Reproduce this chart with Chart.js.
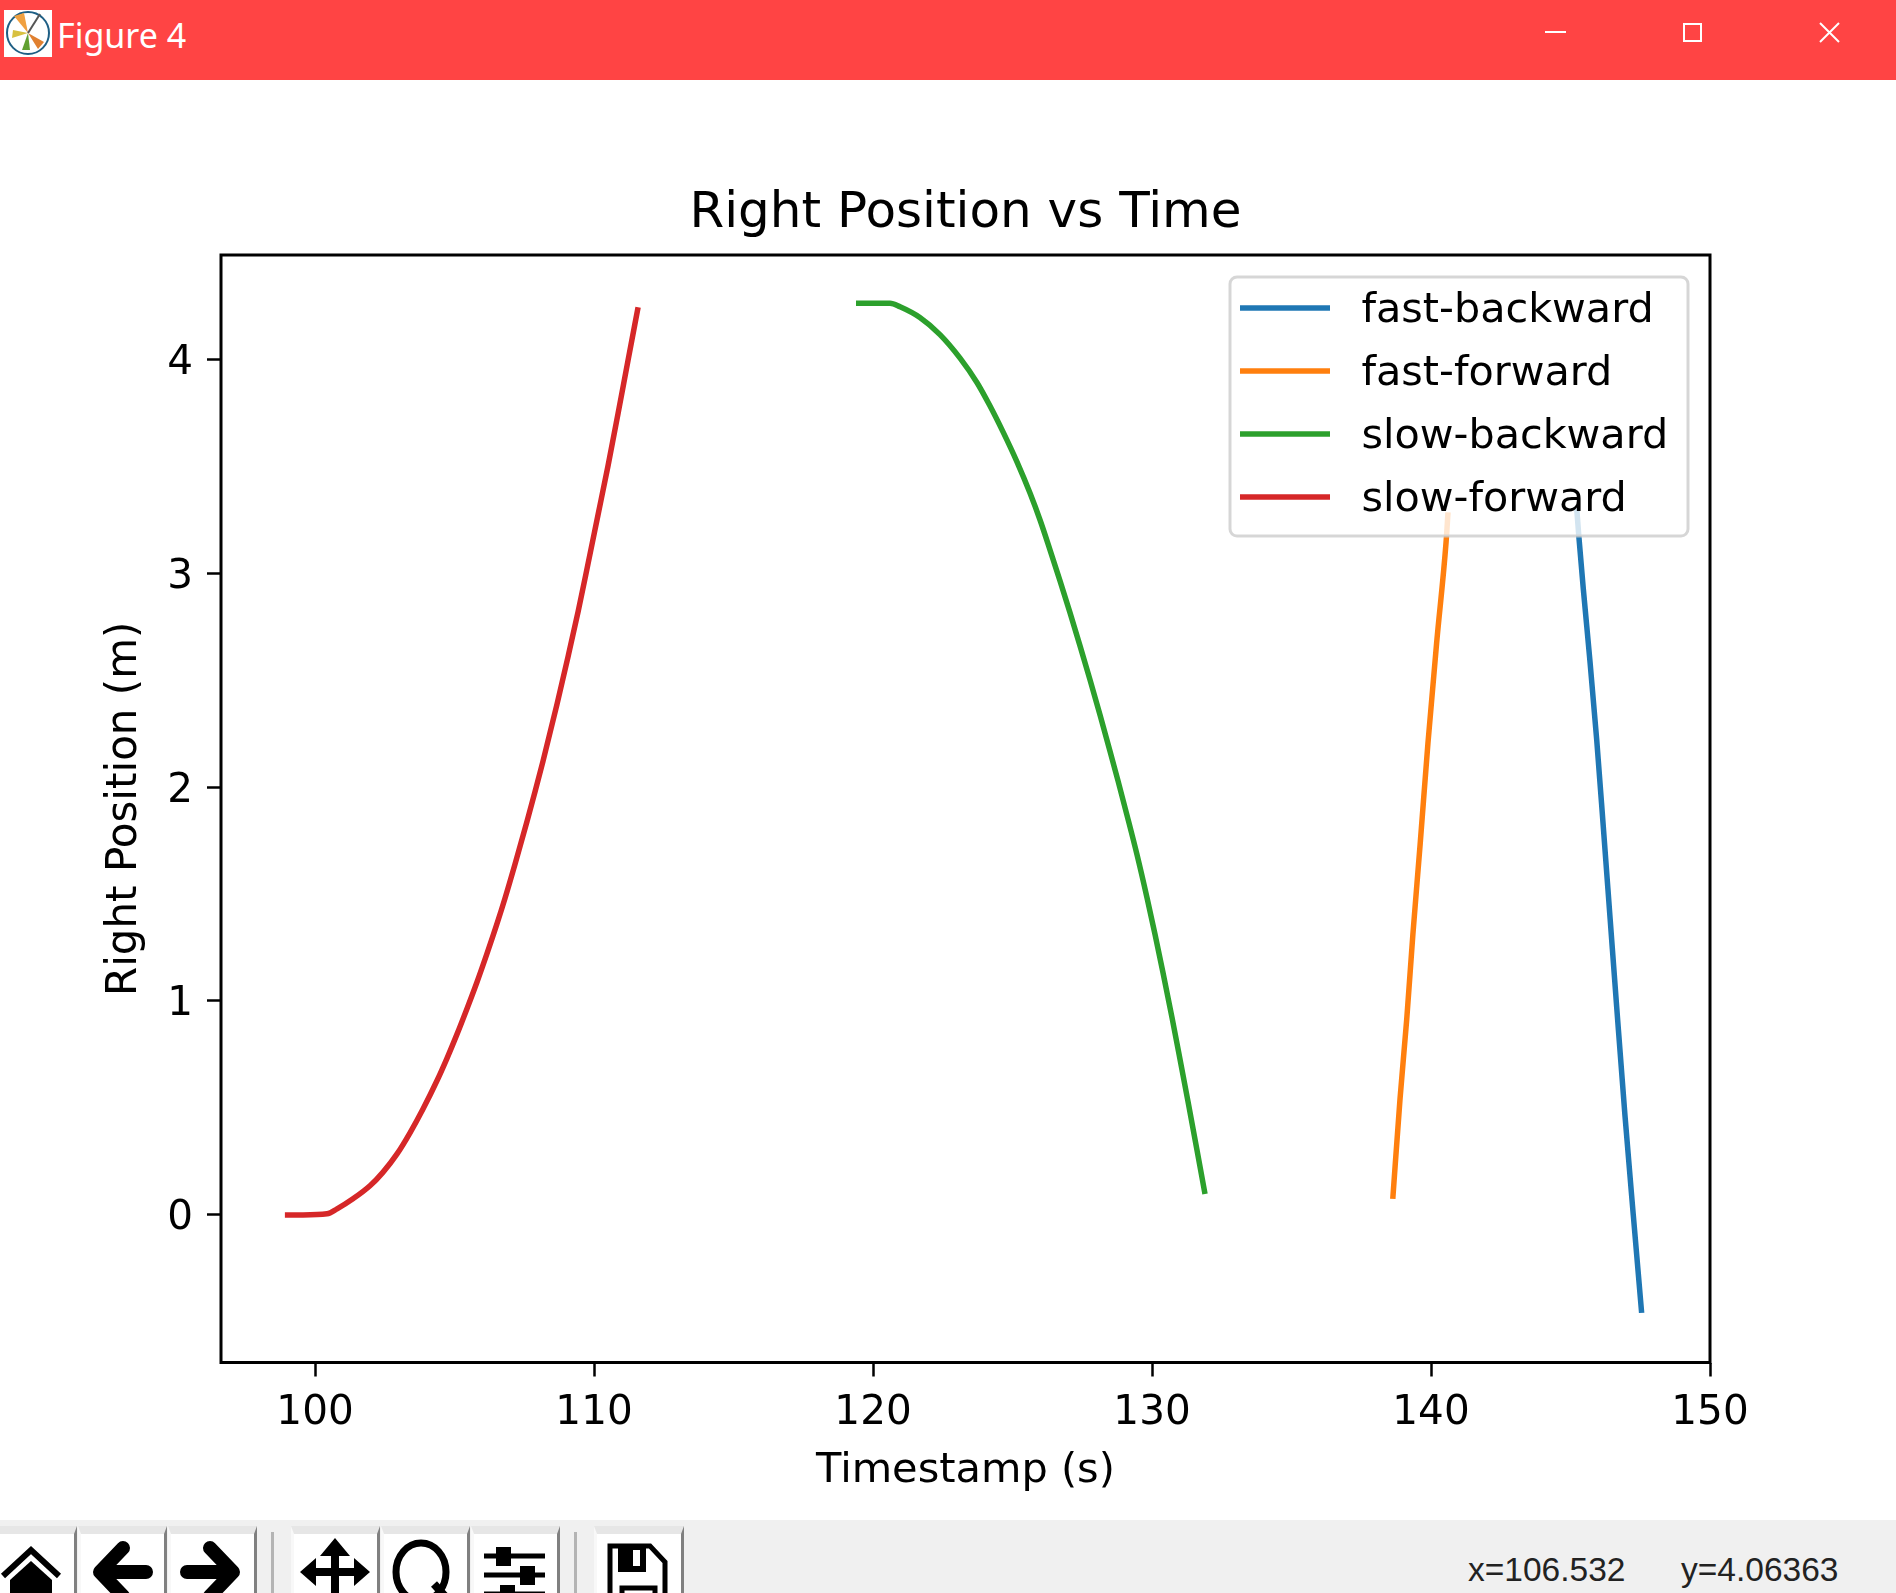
<!DOCTYPE html>
<html>
<head>
<meta charset="utf-8">
<title>Figure 4</title>
<script src="https://cdn.jsdelivr.net/npm/chart.js@4"></script>
<style>
  html, body { margin: 0; padding: 0; background: #fff; overflow: hidden; }
  #page { position: relative; width: 1896px; height: 1593px; overflow: hidden; background: #fff; filter: blur(0.6px); }
  #titlebar { position: absolute; left: 0; top: 0; width: 1896px; height: 80px; background: #ff4444; }
  #titletext { position: absolute; left: 57px; top: 12px; color: #fff; font: 34px "Noto Sans", sans-serif; line-height: 46px; }
  #plot { position: absolute; left: 0; top: 80px; }
  #toolbar { position: absolute; left: 0; top: 1520px; width: 1896px; height: 73px; background: #f0f0f0; }
  .btn { position: absolute; top: 6px; height: 80px; box-sizing: border-box; background: #fff;
         border-top: 8px solid #e6e6e6; border-right: 3px solid #808080; border-left: 3px solid #f8f8f8; }
  .sep { position: absolute; top: 12px; width: 3px; height: 70px; background: #b4b4b4; }
  .status { position: absolute; top: 27px; font: 33.5px "Liberation Sans Narrow", "Liberation Sans", sans-serif; color: #222; line-height: 46px; white-space: nowrap; }
  svg { position: absolute; left: 0; top: 0; }
</style>
</head>
<body>
<div id="page">
  <div id="titlebar">
    <svg width="1896" height="80">
      <rect x="4" y="10" width="48" height="47" fill="#fff"/>
      <circle cx="28" cy="33" r="21" fill="none" stroke="#1f5f85" stroke-width="2"/>
      <path d="M28 33 L14 16 L24 13 Z" fill="#f0a040"/>
      <path d="M28 33 L44 42 L38 49 Z" fill="#e08030"/>
      <path d="M28 33 L22 50 L30 50 Z" fill="#60a030"/>
      <path d="M28 33 L12 38 L13 30 Z" fill="#d8c040"/>
      <path d="M28 33 L40 14" stroke="#555" stroke-width="2"/>
      <g stroke="#fff" stroke-width="2" fill="none">
        <path d="M1545 32 H1566"/>
        <rect x="1684" y="24" width="17" height="17"/>
        <path d="M1820 23 L1839 42 M1839 23 L1820 42"/>
      </g>
    </svg>
    <div id="titletext">Figure 4</div>
  </div>

  <canvas id="plot" width="1896" height="1440"></canvas>

  <div id="toolbar">
    <div class="btn" style="left:-20px;width:97px"></div>
    <div class="btn" style="left:78px;width:89px"></div>
    <div class="btn" style="left:168px;width:89px"></div>
    <div class="sep" style="left:271px"></div>
    <div class="btn" style="left:291px;width:89px"></div>
    <div class="btn" style="left:381px;width:89px"></div>
    <div class="btn" style="left:471px;width:89px"></div>
    <div class="sep" style="left:574px"></div>
    <div class="btn" style="left:594px;width:90px"></div>
    <svg width="1896" height="73">
      <!-- home -->
      <path d="M3 56 L31 30 L59 56" fill="none" stroke="#000" stroke-width="6"/>
      <path d="M10 60 L31 41 L52 60 V90 H10 Z" fill="#000"/>
      <!-- back / forward -->
      <path d="M146 52 H110 M123 28 L100 52 L123 76" fill="none" stroke="#000" stroke-width="14" stroke-linejoin="round" stroke-linecap="round"/>
      <path d="M187 52 H223 M210 28 L233 52 L210 76" fill="none" stroke="#000" stroke-width="14" stroke-linejoin="round" stroke-linecap="round"/>
      <!-- move -->
      <path d="M335 24 V90 M306 52 H364" stroke="#000" stroke-width="8" fill="none"/>
      <path d="M335 18 L350 36 H320 Z M300 52 L316 38 V66 Z M370 52 L354 38 V66 Z" fill="#000"/>
      <!-- zoom -->
      <ellipse cx="421" cy="52" rx="25" ry="29" fill="none" stroke="#000" stroke-width="7"/>
      <path d="M434 64 L452 84" stroke="#000" stroke-width="8"/>
      <!-- sliders -->
      <path d="M484 36 H545 M484 55 H545 M484 74 H545" stroke="#000" stroke-width="5"/>
      <rect x="496" y="27" width="15" height="19" fill="#000"/>
      <rect x="520" y="46" width="15" height="19" fill="#000"/>
      <rect x="500" y="65" width="15" height="19" fill="#000"/>
      <!-- save -->
      <path d="M610 26 H650 L665 42 V90 H610 Z" fill="#fff" stroke="#000" stroke-width="5"/>
      <path d="M618 26 H646 V52 H618 Z" fill="#000"/>
      <rect x="633" y="30" width="7" height="16" fill="#fff"/>
      <path d="M622 90 V68 H655 V90" fill="none" stroke="#000" stroke-width="5"/>
    </svg>
    <div class="status" style="left:1468px">x=106.532</div>
    <div class="status" style="left:1681px">y=4.06363</div>
  </div>
</div>

<script>
const seriesNames = ['fast-backward', 'fast-forward', 'slow-backward', 'slow-forward'];
const seriesColors = ['#1f77b4', '#ff7f0e', '#2ca02c', '#d62728'];

const fastBackwardX = [145.22, 145.30, 145.46, 145.70, 145.94, 146.18, 146.42, 146.66, 146.95, 147.25, 147.55];
const fastBackwardY = [3.308, 3.17, 2.925, 2.585, 2.22, 1.806, 1.385, 0.964, 0.468, 0, -0.458];

const fastForwardX = [138.63, 138.89, 139.13, 139.35, 139.61, 139.89, 140.20, 140.54, 140.61];
const fastForwardY = [0.075, 0.543, 0.915, 1.310, 1.731, 2.204, 2.671, 3.144, 3.284];

const slowBackwardX = [119.39, 120.61, 120.97, 121.68, 122.40, 123.12, 123.73, 124.19, 124.66, 125.16,
  125.63, 125.99, 126.34, 126.70, 127.06, 127.42, 127.78, 128.14, 128.49, 128.78,
  129.10, 129.46, 129.82, 130.11, 130.39, 130.72, 131.00, 131.29, 131.61, 131.90];
const slowBackwardY = [4.262, 4.262, 4.245, 4.195, 4.115, 4.005, 3.89, 3.782, 3.66, 3.52,
  3.373, 3.247, 3.11, 2.965, 2.815, 2.66, 2.50, 2.335, 2.17, 2.03,
  1.87, 1.685, 1.483, 1.31, 1.135, 0.92, 0.73, 0.53, 0.305, 0.098];

const slowForwardX = [98.92, 99.57, 100.43, 100.79, 101.36, 101.97, 102.44, 102.94, 103.41, 103.87,
  104.37, 104.73, 105.09, 105.45, 105.81, 106.16, 106.52, 106.81, 107.17, 107.60,
  107.89, 108.17, 108.67, 109.07, 109.43, 109.78, 110.14, 110.50, 110.86, 111.22, 111.58];
const slowForwardY = [0, 0, 0.005, 0.028, 0.075, 0.136, 0.20, 0.285, 0.385, 0.495,
  0.627, 0.732, 0.845, 0.965, 1.09, 1.22, 1.36, 1.48, 1.64, 1.84,
  1.98, 2.12, 2.385, 2.61, 2.82, 3.04, 3.27, 3.50, 3.745, 3.995, 4.243];

const seriesX = [fastBackwardX, fastForwardX, slowBackwardX, slowForwardX];
const seriesY = [fastBackwardY, fastForwardY, slowBackwardY, slowForwardY];

const xMin = 96.63, xMax = 150;
const yMin = -0.69, yMax = 4.487;

const fontFamily = '"DejaVu Sans", sans-serif';

// axes box and matplotlib style legend, neither exists in Chart.js as such
const figureExtras = {
  id: 'figureExtras',
  afterDatasetsDraw(chart) {
    const { ctx, chartArea: a } = chart;
    ctx.save();
    ctx.strokeStyle = '#000';
    ctx.lineWidth = 3;
    ctx.strokeRect(a.left, a.top, a.right - a.left, a.bottom - a.top);

    // legend frame
    ctx.beginPath();
    ctx.roundRect(1230, 197, 458, 259, 7);
    ctx.fillStyle = 'rgba(255,255,255,0.8)';
    ctx.fill();
    ctx.strokeStyle = 'rgba(204,204,204,0.8)';
    ctx.lineWidth = 3;
    ctx.stroke();

    ctx.font = '41.3px ' + fontFamily;
    ctx.textBaseline = 'middle';
    chart.data.datasets.forEach((ds, i) => {
      const rowY = 228 + i * 63;
      ctx.strokeStyle = ds.borderColor;
      ctx.lineWidth = 5.5;
      ctx.beginPath();
      ctx.moveTo(1240, rowY);
      ctx.lineTo(1330, rowY);
      ctx.stroke();
      ctx.fillStyle = '#000';
      ctx.fillText(ds.label, 1361.5, rowY + 3);
    });
    ctx.restore();
  }
};

new Chart(document.getElementById('plot'), {
  type: 'scatter',
  data: {
    datasets: seriesNames.map((name, i) => ({
      label: name,
      data: seriesX[i].map((x, j) => ({ x: x, y: seriesY[i][j] })),
      showLine: true,
      borderColor: seriesColors[i],
      backgroundColor: seriesColors[i],
      borderWidth: 5.5,
      borderCapStyle: 'butt',
      pointRadius: 0,
      cubicInterpolationMode: 'monotone'
    }))
  },
  options: {
    responsive: false,
    animation: false,
    devicePixelRatio: 1,
    layout: { padding: { top: 104.4, right: 186, left: 0, bottom: 0 } },
    plugins: {
      legend: { display: false },
      tooltip: { enabled: false },
      title: {
        display: true,
        text: 'Right Position vs Time',
        color: '#000',
        fullSize: false,
        font: { family: fontFamily, size: 50, weight: 'normal' },
        padding: { top: 0, bottom: 10.6 }
      }
    },
    scales: {
      x: {
        type: 'linear',
        min: xMin,
        max: xMax,
        afterFit(scale) { scale.height = 157.5; },
        border: { display: false },
        grid: { drawOnChartArea: false, tickLength: 14, tickWidth: 2.5, tickColor: '#000' },
        ticks: {
          stepSize: 10,
          includeBounds: false,
          maxRotation: 0,
          color: '#000',
          padding: 12.5,
          font: { family: fontFamily, size: 40.5 }
        },
        title: {
          display: true,
          text: 'Timestamp (s)',
          color: '#000',
          font: { family: fontFamily, size: 41.5 },
          padding: { top: 0, bottom: 24 }
        }
      },
      y: {
        type: 'linear',
        min: yMin,
        max: yMax,
        afterFit(scale) { scale.width = 221; },
        border: { display: false },
        grid: { drawOnChartArea: false, tickLength: 14, tickWidth: 2.5, tickColor: '#000' },
        ticks: {
          stepSize: 1,
          includeBounds: false,
          color: '#000',
          padding: 14,
          labelOffset: 4,
          font: { family: fontFamily, size: 40.5 }
        },
        title: {
          display: true,
          text: 'Right Position (m)',
          color: '#000',
          font: { family: fontFamily, size: 42 },
          padding: { top: 100, bottom: 0 }
        }
      }
    }
  },
  plugins: [figureExtras]
});
</script>
</body>
</html>
